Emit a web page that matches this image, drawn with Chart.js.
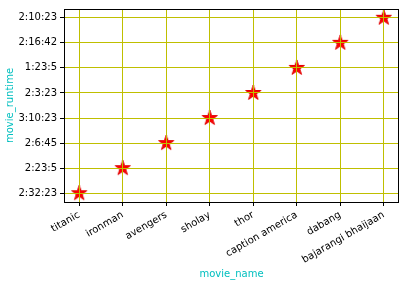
<!DOCTYPE html>
<html>
<head>
<meta charset="utf-8">
<script src="https://cdn.jsdelivr.net/npm/chart.js@4/dist/chart.umd.min.js"></script>
<style>
  html, body { margin: 0; padding: 0; background: #fff; }
  #wrap { width: 409px; height: 287px; }
</style>
</head>
<body>
<div id="wrap"><canvas id="chart" width="409" height="287"></canvas></div>
<script>
// 데이터
const movies = ['titanic', 'ironman', 'avengers', 'sholay', 'thor', 'caption america', 'dabang', 'bajarangi bhaijaan'];
const runtimes = ['2:32:23', '2:23:5', '2:6:45', '3:10:23', '2:3:23', '1:23:5', '2:16:42', '2:10:23'];

// 별 모양 마커 (matplotlib '*')
function makeStar(r) {
  const c = document.createElement('canvas');
  const size = Math.ceil(r * 2 + 4);
  c.width = size;
  c.height = size;
  const ctx = c.getContext('2d');
  const cx = size / 2, cy = size / 2;
  const inner = r * 0.382;
  ctx.beginPath();
  for (let i = 0; i < 10; i++) {
    const rad = i % 2 === 0 ? r : inner;
    const a = -Math.PI / 2 + i * Math.PI / 5;
    const px = cx + rad * Math.cos(a);
    const py = cy + rad * Math.sin(a);
    if (i === 0) ctx.moveTo(px, py); else ctx.lineTo(px, py);
  }
  ctx.closePath();
  ctx.fillStyle = '#ff0000';
  ctx.fill();
  ctx.lineWidth = 1;
  ctx.strokeStyle = '#e00000';
  ctx.stroke();
  return c;
}

// 사방 테두리
const framePlugin = {
  id: 'frame',
  afterDraw(chart) {
    const a = chart.chartArea;
    const ctx = chart.ctx;
    ctx.save();
    ctx.strokeStyle = '#000';
    ctx.lineWidth = 1;
    ctx.strokeRect(Math.round(a.left) + 0.5, Math.round(a.top) + 0.5,
      Math.round(a.right - a.left) - 1, Math.round(a.bottom - a.top));
    ctx.restore();
  }
};

const font = { family: 'DejaVu Sans', size: 10 };
const gridColor = '#bfbf00';

new Chart(document.getElementById('chart'), {
  type: 'scatter',
  data: {
    datasets: [{
      data: movies.map((m, i) => ({ x: i, y: runtimes.indexOf(runtimes[i]) })),
      pointStyle: makeStar(8),
      pointRadius: 8,
      pointHoverRadius: 8
    }]
  },
  options: {
    responsive: false,
    animation: false,
    layout: { padding: { top: 7, right: 10, bottom: 3, left: 0 } },
    plugins: { legend: { display: false }, tooltip: { enabled: false } },
    scales: {
      x: {
        type: 'linear',
        min: -0.35,
        max: movies.length - 1 + 0.35,
        afterBuildTicks: s => { s.ticks = movies.map((_, i) => ({ value: i })); },
        afterFit: s => { s.height = 82; },
        ticks: {
          callback: v => movies[v],
          autoSkip: false,
          minRotation: 30,
          maxRotation: 30,
          padding: 3,
          color: '#000',
          font: font
        },
        // 격자를 마커 위에 그림
        grid: { z: 1, color: gridColor, lineWidth: 1, tickColor: '#000', tickLength: 4 },
        border: { display: false },
        title: { display: true, text: 'movie_name', color: '#00bfbf', font: font, padding: { top: 4, bottom: 4 } }
      },
      y: {
        type: 'linear',
        min: -0.35,
        max: runtimes.length - 1 + 0.35,
        afterBuildTicks: s => { s.ticks = runtimes.map((_, i) => ({ value: i })); },
        afterFit: s => { s.width = 64; },
        ticks: {
          callback: v => runtimes[v],
          autoSkip: false,
          padding: 3,
          color: '#000',
          font: font
        },
        grid: { z: 1, color: gridColor, lineWidth: 1, tickColor: '#000', tickLength: 4 },
        border: { display: false },
        title: { display: true, text: 'movie_runtime', color: '#00bfbf', font: font, padding: { top: 4, bottom: 4 } }
      }
    }
  },
  plugins: [framePlugin]
});
</script>
</body>
</html>
